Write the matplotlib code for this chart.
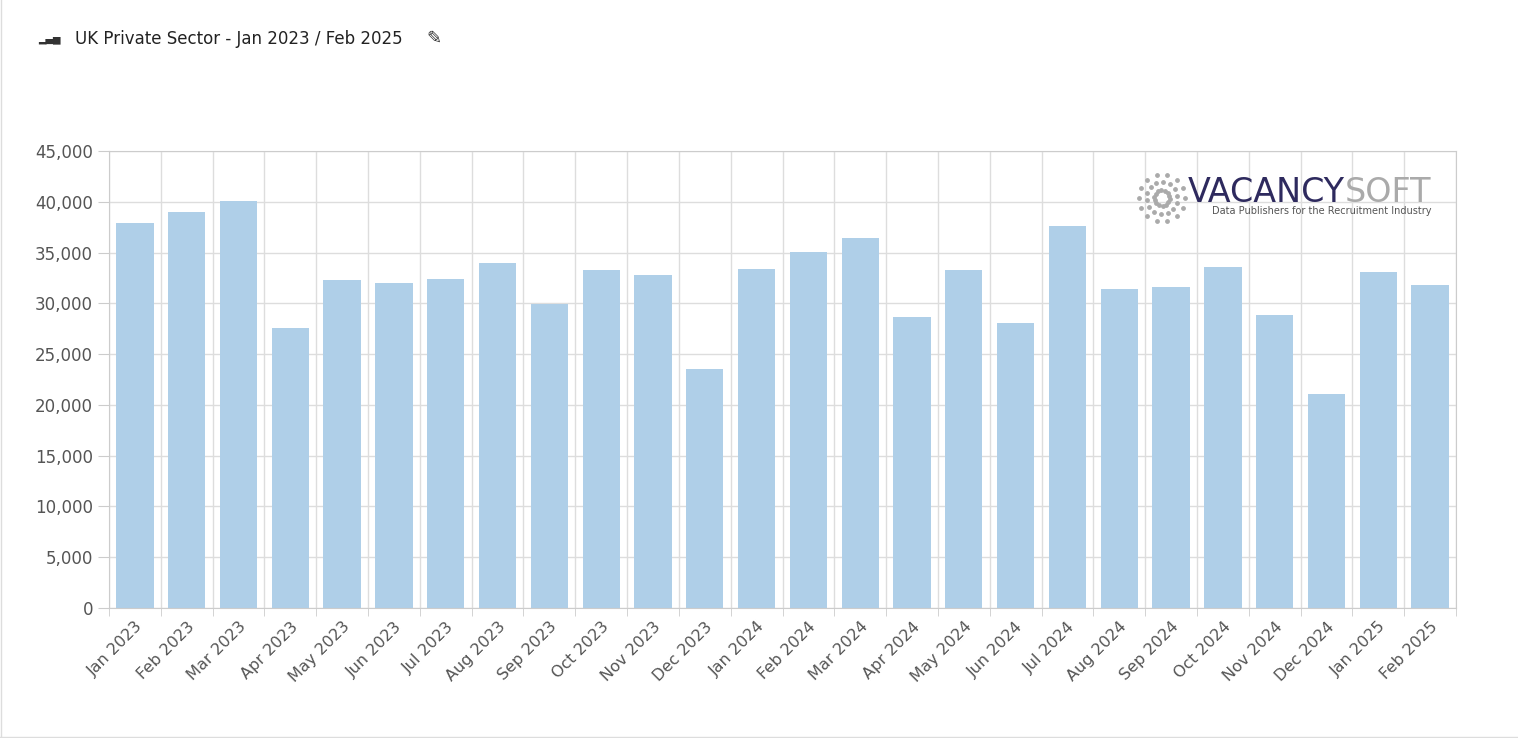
import matplotlib
matplotlib.use("Agg")
import matplotlib.pyplot as plt
import numpy as np

months = ["Jan 2023","Feb 2023","Mar 2023","Apr 2023","May 2023","Jun 2023","Jul 2023","Aug 2023",
          "Sep 2023","Oct 2023","Nov 2023","Dec 2023","Jan 2024","Feb 2024","Mar 2024","Apr 2024",
          "May 2024","Jun 2024","Jul 2024","Aug 2024","Sep 2024","Oct 2024","Nov 2024","Dec 2024",
          "Jan 2025","Feb 2025"]
values = [37900,39000,40100,27600,32300,32000,32400,34000,29900,33300,32800,23500,33400,35050,
          36400,28650,33300,28100,37600,31400,31600,33600,28850,21100,33100,31800]

W, H = 1518, 738
fig = plt.figure(figsize=(W/100, H/100), dpi=100)
ax = fig.add_axes([109/W, 1-608/H, (1456-109)/W, (608-151)/H])
x = np.arange(len(months))
ax.bar(x, values, width=0.72, color="#afcfe8", zorder=2)
ax.set_xlim(-0.5, len(months)-0.5)
ax.set_ylim(0, 45000)
ax.set_yticks(range(0, 45001, 5000))
ax.set_yticklabels([f"{v:,}" for v in range(0, 45001, 5000)], fontsize=12, color="#555555")
ax.set_xticks(x)
ax.set_xticklabels(months, rotation=45, ha="right", rotation_mode="anchor", fontsize=11.5, color="#555555")
ax.set_xticks(np.arange(-0.5, len(months)), minor=True)
ax.grid(True, which="major", axis="y", color="#dddddd", lw=1, zorder=0)
ax.grid(True, which="minor", axis="x", color="#dddddd", lw=1, zorder=0)
ax.tick_params(axis="x", which="major", length=0, pad=8)
ax.tick_params(axis="x", which="minor", length=6, color="#cccccc")
ax.tick_params(axis="y", length=8, color="#cccccc")
for s in ax.spines.values():
    s.set_color("#cccccc")

fig.text(75/W, 1-39/H, "UK Private Sector - Jan 2023 / Feb 2025", fontsize=12, va="center", color="#222222")
fig.text(38/W, 1-39/H, "▂▄▆", fontsize=7, va="center", color="#333333")
fig.text(426/W, 1-39/H, "✎", fontsize=13, va="center", color="#333333", family=["DejaVu Sans"])

fig.text(1188/W, 1-192/H, "VACANCY", fontsize=24, color="#2e2a5e", va="center")
fig.text(1345/W, 1-192/H, "SOFT", fontsize=24, color="#aaaaaa", va="center")
fig.text(1212/W, 1-211/H, "Data Publishers for the Recruitment Industry", fontsize=7, color="#555555", va="center")
ax_l = fig.add_axes([1136/W, 1-224/H, 52/W, 52/H]); ax_l.axis("off")
ang = np.linspace(0, 2*np.pi, 14, endpoint=False)
for r in [0.3, 0.6, 0.9]:
    ax_l.scatter(r*np.cos(ang+r), r*np.sin(ang+r), s=6, color="#aaaaaa")
ax_l.set_xlim(-1, 1); ax_l.set_ylim(-1, 1)

fig.add_artist(plt.Line2D([1/W, 1/W], [0, 1], color="#dddddd", lw=1))
fig.add_artist(plt.Line2D([0, 1], [1/H, 1/H], color="#dddddd", lw=1))
fig.savefig("out.png", dpi=100)
